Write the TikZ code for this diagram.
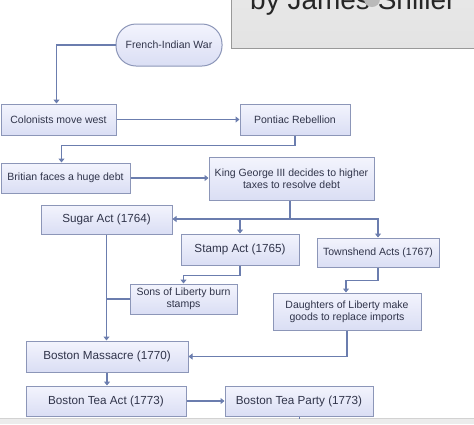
\documentclass[tikz,border=0pt]{standalone}
\usepackage{fontspec}
\setmainfont{Liberation Sans}
\usetikzlibrary{arrows.meta,calc}
\definecolor{boxline}{HTML}{8C96B8}
\definecolor{conline}{HTML}{6B7DAE}
\definecolor{boxtop}{HTML}{F3F4FD}
\definecolor{boxbot}{HTML}{DADEF4}
\definecolor{txt}{HTML}{30344A}
\tikzset{
  evbox/.style={draw=boxline, line width=1pt, top color=boxtop, bottom color=boxbot,
    text=txt, font=\fontsize{10.5}{12}\selectfont, align=center, inner sep=1pt},
  bigbox/.style={evbox, font=\fontsize{11.7}{13}\selectfont},
  conn/.style={draw=conline, line width=1.3pt},
  arr/.style={conn, -{Triangle[length=4pt,width=6pt]}}
}
\begin{document}
\begin{tikzpicture}[x=1pt,y=-1pt]
\useasboundingbox (0,0) rectangle (474,424);
\begin{scope}
\clip (0,0) rectangle (474,424);
% title panel
\draw[draw=gray!80, line width=1pt, top color=gray!18, bottom color=gray!22] (231,-10) rectangle (480,48);
\node[anchor=base west, font=\fontsize{28}{30}\selectfont, text=black!85, inner sep=0] (title) at (250,9.5) {by James Shiller};
\fill[gray!55] (372,-1) circle (8);
% bottom strip
\fill[gray!15] (0,418) rectangle (474,424);
\draw[gray!35, line width=0.6pt] (0,418) -- (474,418);
\end{scope}

\node[evbox, rounded corners=20pt, minimum width=106pt, minimum height=42pt] (fiw) at (169,45) {French-Indian War};
\node[evbox, minimum width=115pt, minimum height=31pt] (cmw) at (58.5,119.5) {Colonists move west};
\node[evbox, minimum width=110pt, minimum height=31pt] (pr) at (295,119.5) {Pontiac Rebellion};
\node[evbox, minimum width=129pt, minimum height=30pt] (bfd) at (65.5,178) {Britian faces a huge debt};
\node[evbox, minimum width=165pt, minimum height=43pt] (kg) at (291.5,179) {King George III decides to higher\\taxes to resolve debt};
\node[bigbox, minimum width=131pt, minimum height=29pt] (sa) at (106.5,219.5) {Sugar Act (1764)};
\node[bigbox, minimum width=118pt, minimum height=31pt] (sta) at (240,249.5) {Stamp Act (1765)};
\node[evbox, minimum width=122pt, minimum height=29pt] (ta) at (378,252.5) {Townshend Acts (1767)};
\node[evbox, minimum width=107pt, minimum height=30pt] (sol) at (183.5,299) {Sons of Liberty burn\\stamps};
\node[evbox, minimum width=148pt, minimum height=37pt] (dol) at (347,311.5) {Daughters of Liberty make\\goods to replace imports};
\node[bigbox, minimum width=162pt, minimum height=31pt] (bm) at (107,356.5) {Boston Massacre (1770)};
\node[bigbox, minimum width=160pt, minimum height=30pt] (bta) at (106,401) {Boston Tea Act (1773)};
\node[bigbox, minimum width=148pt, minimum height=30pt] (btp) at (299,401) {Boston Tea Party (1773)};

\coordinate (j1) at (290,219);
\coordinate (end) at (299,419);

\draw[arr] (fiw.west) -| ([xshift=-2pt]cmw.north);
\draw[arr] (cmw.east) -- (pr.west);
\draw[arr] (pr.south) -- ++(0,10) -| ([xshift=-4pt]bfd.north);
\draw[arr] (bfd.east) -- (bfd.east -| kg.west);
\draw[conn] (kg.south -| j1) -- (j1);
\draw[arr] (j1) -- (j1 -| sa.east);
\draw[arr] (j1) -| (sta.north);
\draw[arr] (j1) -| (ta.north);
\draw[arr] (sta.south) -- ++(0,10) -| (sol.north);
\draw[arr] (sa.south) -- (sa.south |- bm.north);
\draw[conn] (sol.west) -- (sol.west -| sa.south);
\draw[arr] (ta.south) -- ++(0,13) -| ([xshift=-1pt]dol.north);
\draw[arr] (dol.south) |- (bm.east);
\draw[arr] (bm.south) -- (bm.south |- bta.north);
\draw[arr] (bta.east) -- (btp.west);
\draw[conn, line width=1pt] (btp.south) -- (end);
\end{tikzpicture}
\end{document}
